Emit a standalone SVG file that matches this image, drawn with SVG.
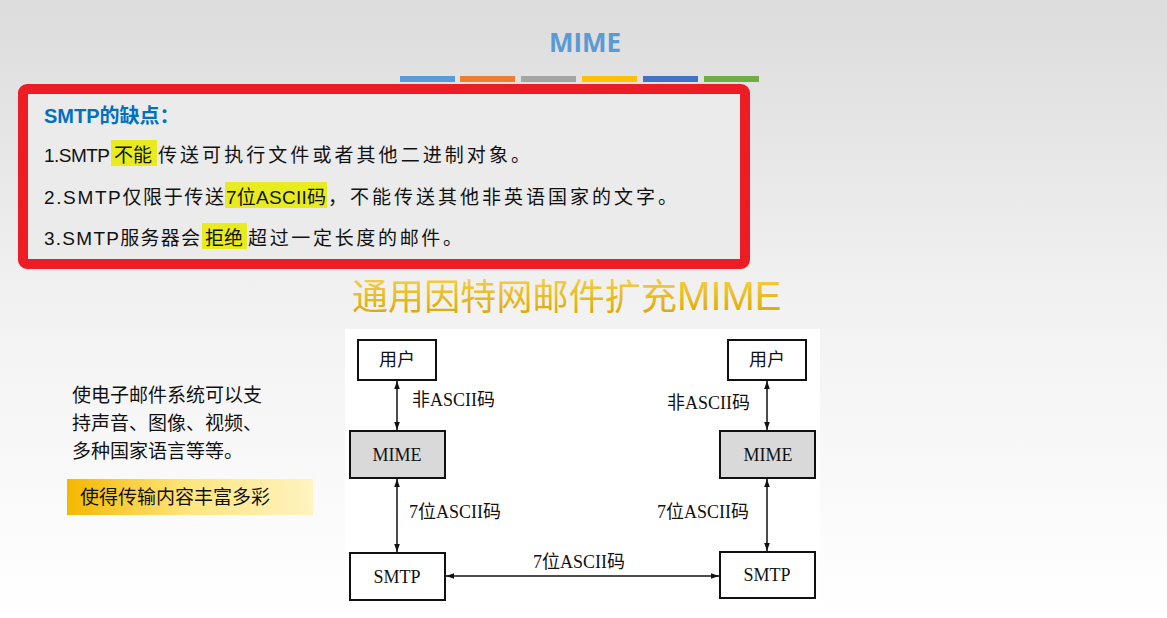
<svg xmlns="http://www.w3.org/2000/svg" width="1167" height="618" viewBox="0 0 1167 618">
<defs>
<linearGradient id="bg" x1="0" y1="0" x2="0" y2="1"><stop offset="0" stop-color="#dcdcdc"/><stop offset="0.5" stop-color="#f2f2f2"/><stop offset="1" stop-color="#ffffff"/></linearGradient>
<linearGradient id="gold" x1="0" y1="0" x2="0" y2="1"><stop offset="0" stop-color="#f7d24a"/><stop offset="1" stop-color="#d9a500"/></linearGradient>
<linearGradient id="yb" x1="0" y1="0" x2="1" y2="0"><stop offset="0" stop-color="#f5b800"/><stop offset="0.5" stop-color="#ffe680"/><stop offset="1" stop-color="#fff3c0"/></linearGradient>
<marker id="ar" viewBox="0 0 10 10" refX="10" refY="5" markerWidth="8" markerHeight="8" orient="auto-start-reverse" markerUnits="userSpaceOnUse"><path d="M0,1.5 L10,5 L0,8.5 z" fill="#111"/></marker>
</defs>
<style>
.t{font-family:"Liberation Sans","Noto Sans CJK SC",sans-serif;font-size:19px;fill:#111}
.s{font-family:"Liberation Serif","Noto Sans CJK SC",serif;font-size:18px;fill:#111}
.b{fill:#fff;stroke:#111;stroke-width:2}
.g{fill:#d9d9d9;stroke:#111;stroke-width:2}
.hl{fill:#e8ec1e}
.c{stroke:#111;stroke-width:1.5;fill:none;marker-start:url(#ar);marker-end:url(#ar)}
</style>
<rect width="1167" height="618" fill="url(#bg)"/>
<text x="585" y="52" text-anchor="middle" font-family="Open Sans,Liberation Sans,sans-serif" font-weight="bold" font-size="26" fill="#5b9bd5">MIME</text>
<rect x="400" y="76" width="55" height="6" fill="#5b9bd5"/>
<rect x="460" y="76" width="55" height="6" fill="#ed7d31"/>
<rect x="521" y="76" width="55" height="6" fill="#a5a5a5"/>
<rect x="582" y="76" width="55" height="6" fill="#ffc000"/>
<rect x="643" y="76" width="55" height="6" fill="#4472c4"/>
<rect x="704" y="76" width="55" height="6" fill="#70ad47"/>
<g id="box">
<rect x="23" y="89" width="722" height="175" rx="4" fill="#ebebeb" stroke="#ee1c25" stroke-width="10"/>
<rect x="111" y="140" width="46" height="26" class="hl"/>
<rect x="225" y="182" width="102" height="26" class="hl"/>
<rect x="202" y="223" width="45" height="26" class="hl"/>
<text x="44" y="123" font-family="Liberation Sans,Noto Sans CJK SC,sans-serif" font-weight="bold" font-size="20" fill="#0070c0">SMTP的缺点：</text>
<text y="162" class="t"><tspan x="44" textLength="66">1.SMTP</tspan><tspan x="114">不能</tspan><tspan x="158" textLength="372">传送可执行文件或者其他二进制对象。</tspan></text>
<text y="204" class="t"><tspan x="44" textLength="180">2.SMTP仅限于传送</tspan><tspan x="226" textLength="100">7位ASCII码</tspan><tspan x="328" textLength="349">，不能传送其他非英语国家的文字。</tspan></text>
<text y="245" class="t"><tspan x="44" textLength="156">3.SMTP服务器会</tspan><tspan x="205">拒绝</tspan><tspan x="248" textLength="214">超过一定长度的邮件。</tspan></text>
</g>
<text x="352" y="310" font-family="Liberation Sans,Noto Sans CJK SC,sans-serif" font-size="36" fill="url(#gold)"><tspan textLength="325">通用因特网邮件扩充</tspan><tspan font-size="40">MIME</tspan></text>
<g id="left-text">
<text x="72" y="402" class="t">使电子邮件系统可以支</text>
<text x="72" y="430" class="t">持声音、图像、视频、</text>
<text x="72" y="458" class="t">多种国家语言等等。</text>
<rect x="67" y="479" width="246" height="36" fill="url(#yb)"/>
<text x="80" y="504" class="t">使得传输内容丰富多彩</text>
</g>
<rect x="345" y="329" width="475" height="276" fill="#fff"/>
<g id="user1"><rect x="358" y="340" width="78" height="40" class="b"/><text x="397" y="366" text-anchor="middle" class="s">用户</text></g>
<g id="mime1"><rect x="350" y="431" width="95" height="47" class="g"/><text x="397" y="461" text-anchor="middle" class="s">MIME</text></g>
<g id="smtp1"><rect x="350" y="553" width="95" height="47" class="b"/><text x="397" y="583" text-anchor="middle" class="s">SMTP</text></g>
<g id="user2"><rect x="728" y="340" width="78" height="40" class="b"/><text x="767" y="366" text-anchor="middle" class="s">用户</text></g>
<g id="mime2"><rect x="720" y="431" width="95" height="47" class="g"/><text x="768" y="461" text-anchor="middle" class="s">MIME</text></g>
<g id="smtp2"><rect x="720" y="552" width="95" height="46" class="b"/><text x="767" y="581" text-anchor="middle" class="s">SMTP</text></g>
<g id="connectors">
<line x1="397" y1="381" x2="397" y2="430" class="c"/>
<line x1="397" y1="479" x2="397" y2="552" class="c"/>
<line x1="767" y1="381" x2="767" y2="430" class="c"/>
<line x1="767" y1="479" x2="767" y2="551" class="c"/>
<line x1="446" y1="576" x2="719" y2="576" class="c"/>
<text x="412" y="406" class="s">非ASCII码</text>
<text x="409" y="518" class="s">7位ASCII码</text>
<text x="667" y="409" class="s">非ASCII码</text>
<text x="657" y="518" class="s">7位ASCII码</text>
<text x="533" y="568" class="s">7位ASCII码</text>
</g>
</svg>
